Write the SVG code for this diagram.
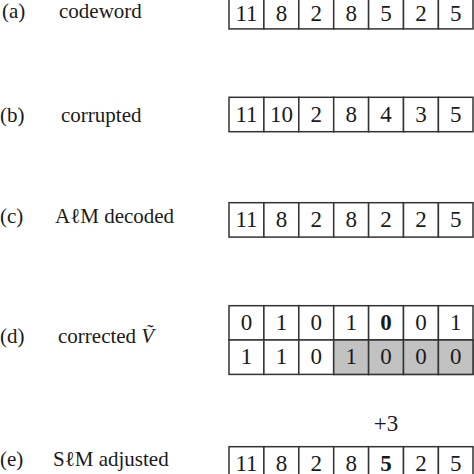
<svg xmlns="http://www.w3.org/2000/svg" width="474" height="474" viewBox="0 0 474 474">
<style>
text{font-family:"Liberation Serif","DejaVu Serif",serif;font-size:21px;fill:#1a1a1a}
.n{text-anchor:middle;font-size:23px}
.b{font-weight:bold}
.c{fill:#fff;stroke:#333;stroke-width:1.5}
.g{fill:#c2c2c2;stroke:#333;stroke-width:1.5}
</style>
<rect width="474" height="474" fill="#fff"/>
<defs>
<g id="row7">
<rect class="c" x="229" y="0" width="34.9" height="34.4"/>
<rect class="c" x="263.9" y="0" width="34.9" height="34.4"/>
<rect class="c" x="298.8" y="0" width="34.9" height="34.4"/>
<rect class="c" x="333.7" y="0" width="34.9" height="34.4"/>
<rect class="c" x="368.6" y="0" width="34.9" height="34.4"/>
<rect class="c" x="403.5" y="0" width="34.9" height="34.4"/>
<rect class="c" x="438.4" y="0" width="34.6" height="34.4"/>
</g>
</defs>
<g id="a">
<text x="2" y="17.5">(a)</text>
<text x="59" y="17.5">codeword</text>
<use href="#row7" y="-5.5"/>
<text class="n" x="246.5" y="21">11</text><text class="n" x="281.4" y="21">8</text><text class="n" x="316.3" y="21">2</text><text class="n" x="351.2" y="21">8</text><text class="n" x="386" y="21">5</text><text class="n" x="421" y="21">2</text><text class="n" x="455.7" y="21">5</text>
</g>
<g id="b">
<text x="0" y="122">(b)</text>
<text x="61" y="122">corrupted</text>
<use href="#row7" y="97.3"/>
<text class="n" x="246.5" y="121.5">11</text><text class="n" x="281.4" y="121.5">10</text><text class="n" x="316.3" y="121.5">2</text><text class="n" x="351.2" y="121.5">8</text><text class="n" x="386" y="121.5">4</text><text class="n" x="421" y="121.5">3</text><text class="n" x="455.7" y="121.5">5</text>
</g>
<g id="c">
<text x="0" y="223">(c)</text>
<text x="55" y="223">AℓM decoded</text>
<use href="#row7" y="202.7"/>
<text class="n" x="246.5" y="226.5">11</text><text class="n" x="281.4" y="226.5">8</text><text class="n" x="316.3" y="226.5">2</text><text class="n" x="351.2" y="226.5">8</text><text class="n" x="386" y="226.5">2</text><text class="n" x="421" y="226.5">2</text><text class="n" x="455.7" y="226.5">5</text>
</g>
<g id="d">
<text x="0" y="343">(d)</text>
<text x="58" y="343">corrected <tspan font-style="italic">Ṽ</tspan></text>
<use href="#row7" y="305.7"/>
<use href="#row7" y="340"/>
<rect class="g" x="333.7" y="340" width="34.9" height="34.4"/>
<rect class="g" x="368.6" y="340" width="34.9" height="34.4"/>
<rect class="g" x="403.5" y="340" width="34.9" height="34.4"/>
<rect class="g" x="438.4" y="340" width="34.6" height="34.4"/>
<text class="n" x="246.5" y="329.5">0</text><text class="n" x="281.4" y="329.5">1</text><text class="n" x="316.3" y="329.5">0</text><text class="n" x="351.2" y="329.5">1</text><text class="n b" x="386" y="329.5">0</text><text class="n" x="421" y="329.5">0</text><text class="n" x="455.7" y="329.5">1</text>
<text class="n" x="246.5" y="364">1</text><text class="n" x="281.4" y="364">1</text><text class="n" x="316.3" y="364">0</text><text class="n" x="351.2" y="364">1</text><text class="n" x="386" y="364">0</text><text class="n" x="421" y="364">0</text><text class="n" x="455.7" y="364">0</text>
</g>
<g id="e">
<text x="0" y="466">(e)</text>
<text x="53" y="466">SℓM adjusted</text>
<text class="n" x="386" y="431">+3</text>
<use href="#row7" y="446.7"/>
<text class="n" x="246.5" y="470.5">11</text><text class="n" x="281.4" y="470.5">8</text><text class="n" x="316.3" y="470.5">2</text><text class="n" x="351.2" y="470.5">8</text><text class="n b" x="386" y="470.5">5</text><text class="n" x="421" y="470.5">2</text><text class="n" x="455.7" y="470.5">5</text>
</g>
</svg>
